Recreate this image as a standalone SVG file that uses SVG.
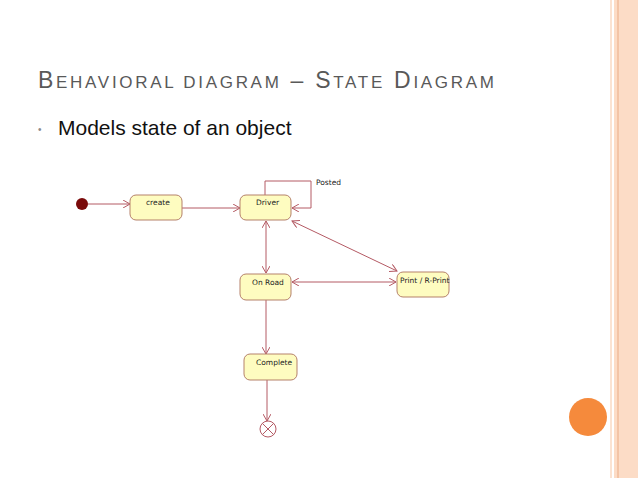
<svg xmlns="http://www.w3.org/2000/svg" width="638" height="478" viewBox="0 0 638 478">
<style>
.st rect{fill:#fefcc0;stroke:#b5816a;stroke-width:1}
.st text{font-family:"DejaVu Sans",sans-serif;font-size:7.5px;fill:#222}
.c{fill:none;stroke:#b45a64;stroke-width:1}
</style>
<defs>
<marker id="a" markerWidth="8" markerHeight="8" refX="7" refY="4" orient="auto-start-reverse" markerUnits="userSpaceOnUse">
<path d="M0,0 L7,4 L0,8" fill="none" stroke="#b45a64" stroke-width="1"/>
</marker>
</defs>
<rect width="638" height="478" fill="#fff"/>
<rect x="610" y="0" width="2" height="478" fill="#fbe3d2"/>
<rect x="614" y="0" width="24" height="478" fill="#fcdcc6"/>
<rect x="617" y="0" width="2" height="478" fill="#f3c4a6"/>
<circle cx="588" cy="417" r="19" fill="#f58a3c"/>
<text x="38" y="88" font-family="Liberation Sans,sans-serif" fill="#595959" font-size="23" textLength="456" lengthAdjust="spacing">B<tspan font-size="17">EHAVIORAL DIAGRAM</tspan> – S<tspan font-size="17">TATE</tspan> D<tspan font-size="17">IAGRAM</tspan></text>
<text x="38" y="133" font-family="Liberation Sans,sans-serif" fill="#8a8a8a" font-size="10">•</text>
<text x="58" y="135" font-family="Liberation Sans,sans-serif" fill="#111" font-size="21">Models state of an object</text>
<g id="connectors">
<line class="c" x1="88" y1="204" x2="130" y2="204" marker-end="url(#a)"/>
<line class="c" x1="182" y1="208" x2="240" y2="208" marker-end="url(#a)"/>
<polyline class="c" points="265,195 265,181 311,181 311,208 292,208" marker-end="url(#a)"/>
<line class="c" x1="266" y1="221" x2="266" y2="273" marker-start="url(#a)" marker-end="url(#a)"/>
<line class="c" x1="292" y1="221" x2="397" y2="271" marker-start="url(#a)" marker-end="url(#a)"/>
<line class="c" x1="292" y1="282" x2="396" y2="282" stroke-width="1.5" marker-start="url(#a)" marker-end="url(#a)"/>
<line class="c" x1="266" y1="300" x2="266" y2="354" marker-end="url(#a)"/>
<line class="c" x1="267" y1="380" x2="267" y2="421" marker-end="url(#a)"/>
<text x="316" y="185" font-family="DejaVu Sans,sans-serif" font-size="7.5" fill="#222">Posted</text>
</g>
<g id="initial"><circle cx="82" cy="204" r="6" fill="#7a0a0a"/></g>
<g id="create" class="st"><rect x="130" y="195" width="52" height="25" rx="6"/><text x="146" y="205">create</text></g>
<g id="driver" class="st"><rect x="240" y="195" width="51" height="25" rx="6"/><text x="256" y="205">Driver</text></g>
<g id="onroad" class="st"><rect x="240" y="274" width="51" height="26" rx="6"/><text x="252" y="285">On Road</text></g>
<g id="print" class="st"><rect x="397" y="272" width="52" height="25" rx="6"/><text x="400" y="283">Print / R-Print</text></g>
<g id="complete" class="st"><rect x="244" y="354" width="53" height="26" rx="6"/><text x="256" y="365">Complete</text></g>
<g id="final"><circle cx="268" cy="429" r="8" fill="#fff" stroke="#b45a64"/><path d="M262.3,423.3 L273.7,434.7 M273.7,423.3 L262.3,434.7" stroke="#b45a64"/></g>
</svg>
